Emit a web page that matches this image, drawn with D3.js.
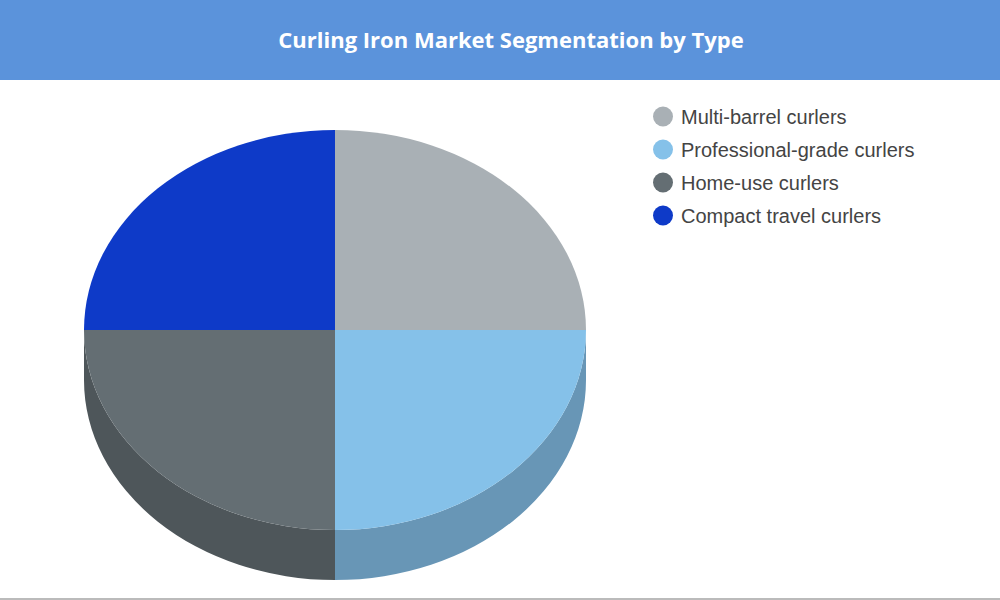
<!DOCTYPE html>
<html><head><meta charset="utf-8">
<script src="https://cdn.jsdelivr.net/npm/d3@7"></script>
<style>body{margin:0;background:#fff;font-family:"Open Sans",sans-serif}</style>
</head><body>
<svg id="c" width="1000" height="600"></svg>
<script>
const categories = ["Multi-barrel curlers","Professional-grade curlers","Home-use curlers","Compact travel curlers"];
const values = [25,25,25,25];
const colors = ["#A9B0B5","#85C1E9","#646E73","#0E3AC8"];
const title = "Curling Iron Market Segmentation by Type";

const svg = d3.select("#c");
svg.append("rect").attr("width",1000).attr("height",80).attr("fill","#5B93DB");
svg.append("text").attr("x",511).attr("y",48).attr("text-anchor","middle").attr("fill","#fff")
  .attr("font-size",22).attr("font-weight","bold").text(title);
svg.append("line").attr("x1",0).attr("x2",1000).attr("y1",599).attr("y2",599).attr("stroke","#bbb").attr("stroke-width",2);

const cx=335, cy=330, rx=251, ry=200, depth=50;
const pt=(a,dy=0)=>[cx+rx*Math.sin(a), cy-ry*Math.cos(a)+dy];
const arcs = d3.pie().sort(null)(values);
const g = svg.append("g");
arcs.forEach((d,i)=>{
  const a0=Math.max(d.startAngle,Math.PI/2), a1=Math.min(d.endAngle,3*Math.PI/2);
  if(a1<=a0) return;
  const p0=pt(a0),p1=pt(a1),q1=pt(a1,depth),q0=pt(a0,depth);
  const large=(a1-a0)>Math.PI?1:0;
  g.append("path").attr("fill",d3.color(colors[i]).darker(0.7))
   .attr("d",`M${p0}A${rx},${ry} 0 ${large} 1 ${p1}L${q1}A${rx},${ry} 0 ${large} 0 ${q0}Z`);
});
arcs.forEach((d,i)=>{
  const p0=pt(d.startAngle),p1=pt(d.endAngle);
  const large=(d.endAngle-d.startAngle)>Math.PI?1:0;
  g.append("path").attr("fill",colors[i])
   .attr("d",`M${cx},${cy}L${p0}A${rx},${ry} 0 ${large} 1 ${p1}Z`);
});

const y = d3.scaleBand().domain(categories).range([100,232]);
const lg = svg.append("g").selectAll("g").data(categories).join("g")
  .attr("transform",d=>`translate(663,${y(d)+y.bandwidth()/2})`);
lg.append("circle").attr("r",10).attr("fill",(d,i)=>colors[i]);
lg.append("text").attr("x",18).attr("dy","0.35em").attr("font-family","Arial, 'Liberation Sans', sans-serif")
  .attr("font-size",20).attr("fill","#444").text(d=>d);
</script>
</body></html>
